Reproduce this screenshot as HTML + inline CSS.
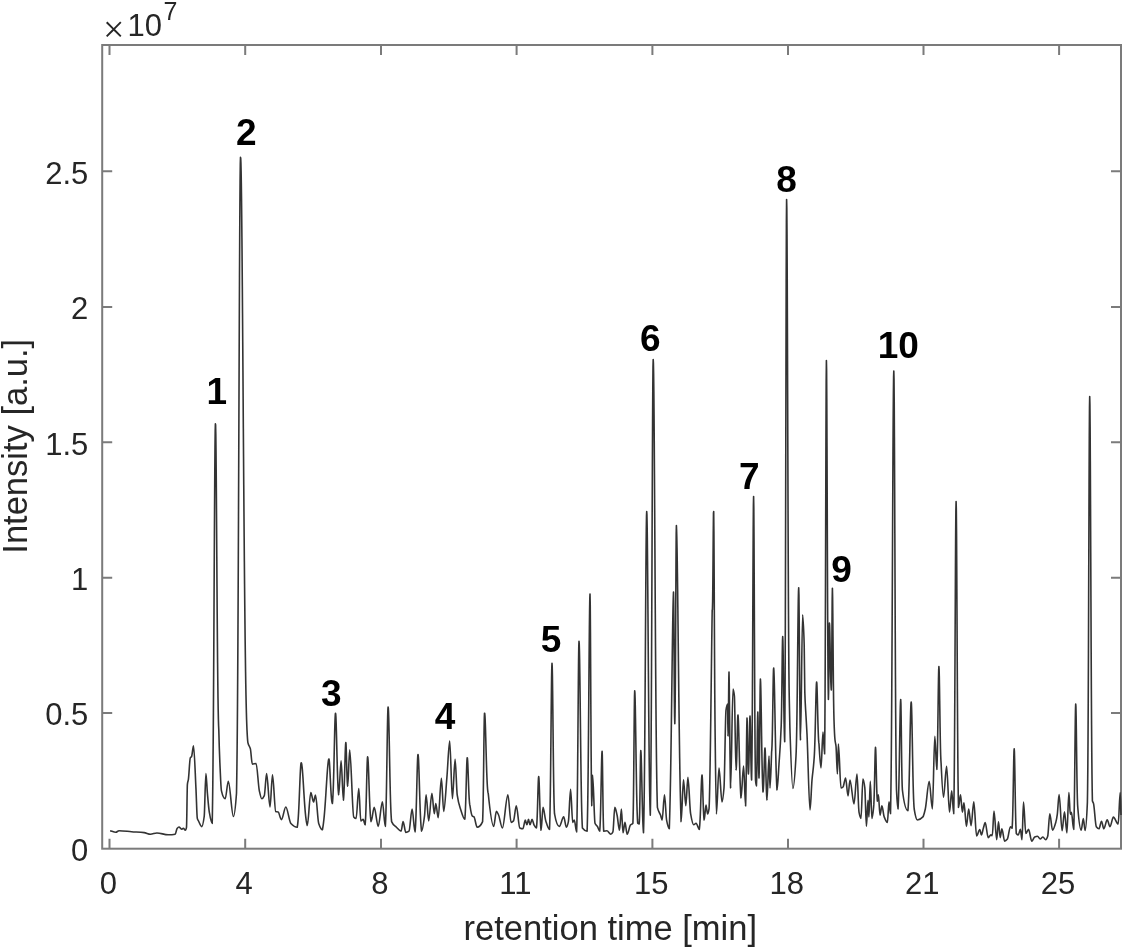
<!DOCTYPE html>
<html><head><meta charset="utf-8"><title>Chromatogram</title>
<style>html,body{margin:0;padding:0;background:#fff;}svg{display:block;}</style></head>
<body><svg width="1125" height="950" viewBox="0 0 1125 950">
<rect width="1125" height="950" fill="#fff"/>
<rect x="102.2" y="45.0" width="1018.8" height="803.7" fill="none" stroke="#7b7b7b" stroke-width="2"/>
<path d="M109.5 848.7V838.7M109.5 45.0V55.0M245.2 848.7V838.7M245.2 45.0V55.0M381.0 848.7V838.7M381.0 45.0V55.0M516.6 848.7V838.7M516.6 45.0V55.0M652.4 848.7V838.7M652.4 45.0V55.0M788.0 848.7V838.7M788.0 45.0V55.0M923.5 848.7V838.7M923.5 45.0V55.0M1059.1 848.7V838.7M1059.1 45.0V55.0M102.2 713.0H112.2M1121.0 713.0H1111.0M102.2 577.7H112.2M1121.0 577.7H1111.0M102.2 442.3H112.2M1121.0 442.3H1111.0M102.2 307.0H112.2M1121.0 307.0H1111.0M102.2 171.2H112.2M1121.0 171.2H1111.0" stroke="#7b7b7b" stroke-width="2" fill="none"/>
<path d="M110.10 830.70C112.00 831.23 113.90 832.30 115.80 832.30C116.87 832.30 117.93 830.70 119.00 830.70C123.20 830.70 127.40 831.38 131.60 831.70C135.80 832.02 140.00 832.10 144.20 832.60C146.30 832.85 148.40 834.20 150.50 834.20C152.63 834.20 154.77 833.00 156.90 833.00C160.67 833.00 164.43 834.80 168.20 834.80C170.53 834.80 172.87 834.67 175.20 834.20C175.83 834.07 176.47 829.29 177.10 828.50C177.73 827.71 178.37 827.00 179.00 827.00C179.83 827.00 180.67 829.20 181.50 829.20C182.13 829.20 182.77 828.30 183.40 828.30C184.03 828.30 184.67 830.20 185.30 830.20C185.70 830.20 186.10 829.22 186.50 827.30C186.80 825.86 187.10 787.05 187.40 784.30C187.73 781.24 188.07 781.52 188.40 779.30C189.03 775.08 189.67 758.91 190.30 757.80C190.73 757.04 191.17 757.21 191.60 756.50C192.23 755.47 192.87 745.80 193.50 745.80C194.33 745.80 195.17 772.87 196.00 789.40C196.43 797.99 196.87 816.71 197.30 818.40C197.70 819.96 198.10 820.21 198.50 821.00C199.57 823.10 200.63 826.60 201.70 826.60C202.53 826.60 203.37 822.58 204.20 816.50C204.77 812.36 205.33 773.60 205.90 773.60C206.40 773.60 206.90 787.52 207.40 793.20C208.03 800.39 208.67 808.42 209.30 812.10C210.27 817.72 211.23 823.50 212.20 823.50L212.40 813.18L212.60 800.24L212.80 784.19L213.00 764.54L213.20 741.00L213.40 713.43L213.60 682.06L213.80 647.42L214.00 610.49L214.20 572.61L214.40 535.45L214.60 500.90L214.80 470.86L215.00 447.13L215.20 431.13L215.40 423.80L215.60 424.95L215.80 433.82L216.00 449.67L216.20 471.35L216.40 497.43L216.60 526.32L216.80 556.42L217.00 586.25L217.20 614.57L217.40 640.41L217.60 663.11L217.80 682.34L218.00 698.01L218.20 710.27L218.40 719.42L218.60 725.85L218.80 730.00C219.23 747.74 219.67 758.44 220.10 767.90C220.53 777.36 220.97 788.69 221.40 790.60C222.67 796.18 223.93 798.80 225.20 798.80C226.23 798.80 227.27 781.20 228.30 781.20C230.00 781.20 231.70 816.50 233.40 816.50C234.43 816.50 235.47 807.48 236.50 793.20L236.70 781.98L236.90 768.00L237.10 750.79L237.30 729.90L237.50 704.97L237.70 675.72L237.90 642.02L238.10 603.96L238.30 561.86L238.50 516.34L238.70 468.26L238.90 418.79L239.10 369.33L239.30 321.49L239.50 276.94L239.70 237.40L239.90 204.45L240.10 179.49L240.30 163.58L240.50 157.40L240.70 158.13L240.91 162.72L241.11 171.07L241.31 183.00L241.52 198.29L241.72 216.64L241.92 237.71L242.12 261.14L242.33 286.53L242.53 313.45L242.73 341.50L242.94 370.26L243.14 399.33L243.34 428.32L243.55 456.89L243.75 484.74L243.95 511.58L244.16 537.19L244.36 561.38L244.56 584.02L244.77 605.00L244.97 624.26L245.17 641.78L245.38 657.57L245.58 671.67L245.78 684.14L245.98 695.06L246.19 704.53L246.39 712.64L246.59 719.51L246.80 725.26L247.00 730.00C247.30 736.13 247.60 741.16 247.90 742.60C248.73 746.59 249.57 745.63 250.40 748.90C251.03 751.39 251.67 764.10 252.30 764.10C253.57 764.10 254.83 763.50 256.10 763.50C257.17 763.50 258.23 785.65 259.30 790.60C260.13 794.47 260.97 798.80 261.80 798.80C262.63 798.80 263.47 797.55 264.30 795.70C265.07 794.00 265.83 773.60 266.60 773.60C267.73 773.60 268.87 807.00 270.00 807.00C270.83 807.00 271.67 774.80 272.50 774.80C273.57 774.80 274.63 811.02 275.70 811.50C276.53 811.88 277.37 811.75 278.20 812.10C279.27 812.55 280.33 819.70 281.40 819.70C282.87 819.70 284.33 807.00 285.80 807.00C287.50 807.00 289.20 821.73 290.90 823.50C293.00 825.69 295.10 827.30 297.20 827.30L297.40 826.22L297.60 824.85L297.80 823.14L298.00 821.06L298.20 818.54L298.40 815.58L298.60 812.16L298.80 808.28L299.00 803.98L299.20 799.33L299.40 794.40L299.60 789.34L299.80 784.27L300.00 779.37L300.20 774.82L300.40 770.79L300.60 767.44L300.80 764.93L301.00 763.36L301.20 762.80L301.40 762.99L301.61 763.64L301.81 764.74L302.01 766.25L302.22 768.15L302.42 770.41L302.62 772.96L302.83 775.78L303.03 778.80L303.23 781.98L303.44 785.25L303.64 788.58L303.84 791.90L304.05 795.18L304.25 798.38L304.45 801.45L304.66 804.38L304.86 807.14L305.06 809.71L305.27 812.09L305.47 814.25L305.67 816.22L305.88 817.97L306.08 819.54L306.28 820.91L306.49 822.11L306.69 823.14L306.89 824.02L307.10 824.77L307.30 825.40C308.47 825.40 309.63 792.50 310.80 792.50C311.73 792.50 312.67 802.00 313.60 802.00C314.23 802.00 314.87 795.00 315.50 795.00C316.57 795.00 317.63 820.40 318.70 823.50C319.93 827.08 321.17 829.80 322.40 829.80L322.60 828.75L322.80 827.61L323.00 826.37L323.20 825.02L323.40 823.55L323.60 821.95L323.80 820.22L324.00 818.34L324.20 816.31L324.40 814.13L324.60 811.80L324.80 809.31L325.00 806.68L325.20 803.92L325.40 801.02L325.60 798.02L325.80 794.93L326.00 791.78L326.20 788.58L326.40 785.39L326.60 782.21L326.80 779.11L327.00 776.10L327.20 773.22L327.40 770.52L327.60 768.03L327.80 765.78L328.00 763.79L328.20 762.11L328.40 760.74L328.60 759.70L328.80 759.00L329.01 759.05L329.22 760.28L329.44 762.56L329.65 765.74L329.86 769.59L330.07 773.86L330.28 778.32L330.49 782.74L330.71 786.92L330.92 790.73L331.13 794.07L331.34 796.87L331.55 799.13L331.76 800.87L331.98 802.14L332.19 802.99L332.40 803.50L332.61 801.25L332.81 798.28L333.02 794.42L333.23 789.55L333.43 783.59L333.64 776.53L333.85 768.47L334.05 759.61L334.26 750.31L334.47 741.02L334.67 732.27L334.88 724.63L335.09 718.63L335.29 714.73L335.50 713.20L335.71 714.15L335.93 717.47L336.14 722.89L336.35 729.95L336.57 738.12L336.78 746.83L336.99 755.55L337.21 763.83L337.42 771.31L337.63 777.79L337.85 783.17L338.06 787.46L338.27 790.74L338.49 793.13L338.70 794.80C339.50 794.80 340.30 760.80 341.10 760.80C341.87 760.80 342.63 800.30 343.40 800.30L343.60 798.16L343.80 795.32L344.00 791.62L344.20 786.94L344.40 781.28L344.60 774.75L344.80 767.65L345.00 760.44L345.20 753.74L345.40 748.16L345.60 744.28L345.80 742.50L346.01 743.78L346.22 748.57L346.43 755.71L346.64 763.74L346.86 771.30L347.07 777.48L347.28 781.91L347.49 784.67L347.70 786.10C348.37 786.10 349.03 749.70 349.70 749.70C351.03 749.70 352.37 815.31 353.70 816.90C354.50 817.85 355.30 818.50 356.10 818.50C357.00 818.50 357.90 788.50 358.80 788.50C359.47 788.50 360.13 820.90 360.80 820.90C361.60 820.90 362.40 819.30 363.20 819.30C363.83 819.30 364.47 824.80 365.10 824.80L365.31 822.71L365.52 819.69L365.73 815.52L365.93 810.05L366.14 803.26L366.35 795.32L366.56 786.61L366.77 777.77L366.98 769.59L367.18 762.91L367.39 758.51L367.60 756.90L367.81 757.54L368.01 759.63L368.22 763.03L368.42 767.52L368.63 772.84L368.84 778.69L369.04 784.77L369.25 790.80L369.45 796.54L369.66 801.81L369.86 806.50L370.07 810.53L370.28 813.90L370.48 816.63L370.69 818.77L370.89 820.40L371.10 821.60C372.13 821.60 373.17 807.40 374.20 807.40C375.53 807.40 376.87 826.40 378.20 826.40C379.60 826.40 381.00 801.90 382.40 801.90C383.37 801.90 384.33 826.40 385.30 826.40L385.50 823.35L385.70 819.14L385.90 813.53L386.10 806.29L386.30 797.34L386.50 786.70L386.70 774.61L386.90 761.53L387.10 748.15L387.30 735.30L387.50 723.94L387.70 714.98L387.90 709.19L388.10 707.10L388.31 708.26L388.51 711.97L388.72 717.99L388.92 725.94L389.13 735.34L389.34 745.68L389.54 756.41L389.75 767.05L389.95 777.20L390.16 786.52L390.36 794.81L390.57 801.94L390.78 807.90L390.98 812.74L391.19 816.54L391.39 819.45L391.60 821.60C393.20 825.39 394.80 825.65 396.40 827.20C397.97 828.72 399.53 831.10 401.10 831.10C401.77 831.10 402.43 821.60 403.10 821.60C404.00 821.60 404.90 832.40 405.80 832.40C406.87 832.40 407.93 831.92 409.00 831.10C410.03 830.30 411.07 809.00 412.10 809.00C413.07 809.00 414.03 831.90 415.00 831.90L415.20 830.12L415.40 827.69L415.60 824.46L415.80 820.33L416.00 815.23L416.20 809.14L416.40 802.14L416.60 794.45L416.80 786.35L417.00 778.26L417.20 770.65L417.40 764.04L417.60 758.90L417.80 755.64L418.00 754.50L418.20 755.25L418.40 757.50L418.60 761.13L418.80 765.93L419.00 771.64L419.20 777.99L419.40 784.68L419.60 791.42L419.80 797.97L420.00 804.12L420.20 809.73L420.40 814.69L420.60 818.97L420.80 822.57L421.00 825.51L421.20 827.87L421.40 829.70L421.60 831.10C422.57 831.10 423.53 823.62 424.50 816.10C425.03 811.95 425.57 794.80 426.10 794.80C426.97 794.80 427.83 820.90 428.70 820.90C429.77 820.90 430.83 793.20 431.90 793.20C432.70 793.20 433.50 813.70 434.30 813.70C434.80 813.70 435.30 803.50 435.80 803.50C436.60 803.50 437.40 817.70 438.20 817.70C439.27 817.70 440.33 778.20 441.40 778.20C442.17 778.20 442.93 811.40 443.70 811.40C444.77 811.40 445.83 789.90 446.90 777.40C447.83 766.46 448.77 741.00 449.70 741.00C450.60 741.00 451.50 798.70 452.40 798.70C453.30 798.70 454.20 759.20 455.10 759.20C455.80 759.20 456.50 789.77 457.20 794.80C458.30 802.70 459.40 805.57 460.50 809.00C461.93 813.47 463.37 819.30 464.80 819.30L465.02 816.90L465.24 813.56L465.45 809.06L465.67 803.24L465.89 796.16L466.11 788.08L466.33 779.57L466.55 771.41L466.76 764.52L466.98 759.74L467.20 757.70L467.40 758.10L467.60 760.24L467.80 763.88L468.00 768.66L468.20 774.14L468.40 779.88L468.60 785.46L468.80 790.59L469.00 795.02L469.20 798.66L469.40 801.49L469.60 803.55L469.80 804.95L470.00 805.80C470.80 811.21 471.60 815.42 472.40 816.10C472.93 816.55 473.47 816.47 474.00 816.90C475.03 817.73 476.07 827.20 477.10 827.20C478.93 827.20 480.77 825.95 482.60 821.60L482.81 816.33L483.02 808.42L483.23 797.21L483.44 782.55L483.66 765.17L483.87 746.85L484.08 730.28L484.29 718.37L484.50 713.40L484.71 713.35L484.91 715.22L485.12 718.84L485.32 723.97L485.53 730.28L485.73 737.39L485.94 744.93L486.14 752.54L486.35 759.91L486.56 766.77L486.76 772.94L486.97 778.28L487.17 782.74L487.38 786.33L487.58 789.09L487.79 791.09L487.99 792.42L488.20 793.20C490.03 811.15 491.87 826.40 493.70 826.40C494.60 826.40 495.50 811.40 496.40 811.40C497.07 811.40 497.73 813.14 498.40 814.50C499.73 817.22 501.07 828.00 502.40 828.00C504.23 828.00 506.07 794.80 507.90 794.80C508.97 794.80 510.03 822.40 511.10 822.40C511.90 822.40 512.70 821.78 513.50 820.90C514.43 819.88 515.37 805.80 516.30 805.80C517.47 805.80 518.63 827.43 519.80 828.00C520.83 828.50 521.87 828.80 522.90 828.80C523.70 828.80 524.50 820.10 525.30 820.10C525.83 820.10 526.37 824.80 526.90 824.80C527.43 824.80 527.97 819.30 528.50 819.30C529.00 819.30 529.50 824.80 530.00 824.80C530.70 824.80 531.40 819.30 532.10 819.30C532.73 819.30 533.37 823.63 534.00 824.80C534.80 826.28 535.60 828.00 536.40 828.00L536.61 826.36L536.82 823.84L537.03 820.20L537.24 815.32L537.45 809.24L537.65 802.22L537.86 794.79L538.07 787.69L538.28 781.79L538.49 777.90L538.70 776.60L538.92 778.11L539.14 782.21L539.35 788.31L539.57 795.62L539.79 803.27L540.01 810.50L540.23 816.79L540.45 821.87L540.66 825.72L540.88 828.46L541.10 830.30C541.73 830.30 542.37 807.40 543.00 807.40C543.93 807.40 544.87 817.92 545.80 820.90C547.03 824.83 548.27 829.50 549.50 829.50L549.71 824.13L549.92 816.56L550.12 806.25L550.33 792.86L550.54 776.31L550.75 757.02L550.96 735.92L551.17 714.51L551.38 694.65L551.58 678.38L551.79 667.51L552.00 663.30L552.21 666.20L552.42 675.75L552.62 690.70L552.83 709.24L553.04 729.34L553.25 749.12L553.46 767.10L553.67 782.32L553.88 794.40L554.08 803.39L554.29 809.65L554.50 813.70C556.10 822.67 557.70 826.40 559.30 826.40C560.77 826.40 562.23 816.90 563.70 816.90C564.60 816.90 565.50 827.20 566.40 827.20C567.07 827.20 567.73 824.70 568.40 821.60C569.13 818.19 569.87 789.30 570.60 789.30C571.30 789.30 572.00 822.40 572.70 822.40C573.23 822.40 573.77 820.10 574.30 820.10C575.07 820.10 575.83 831.90 576.60 831.90L576.82 825.50L577.04 815.88L577.25 802.28L577.47 784.21L577.69 761.80L577.91 736.01L578.13 708.73L578.35 682.66L578.56 660.90L578.78 646.39L579.00 641.20L579.21 643.46L579.42 650.34L579.64 661.35L579.85 675.72L580.06 692.50L580.27 710.67L580.49 729.23L580.70 747.28L580.91 764.11L581.12 779.20L581.34 792.25L581.55 803.16L581.76 811.99L581.98 818.90L582.19 824.15L582.40 828.00C583.97 830.15 585.53 831.10 587.10 831.10L587.31 824.51L587.51 815.73L587.72 804.28L587.93 789.78L588.14 772.02L588.34 751.08L588.55 727.41L588.76 701.86L588.96 675.73L589.17 650.62L589.38 628.31L589.59 610.54L589.79 598.78L590.00 594.00L590.23 603.83L590.45 632.68L590.67 672.75L590.90 714.76L591.12 751.26L591.35 778.46L591.57 796.02L591.80 805.80C592.07 805.80 592.33 775.00 592.60 775.00C593.40 775.00 594.20 821.20 595.00 823.20C595.80 825.20 596.60 825.11 597.40 826.40C598.17 827.64 598.93 831.10 599.70 831.10L599.92 828.46L600.14 824.46L600.35 818.78L600.57 811.22L600.79 801.83L601.01 791.00L601.23 779.55L601.45 768.61L601.66 759.49L601.88 753.43L602.10 751.30L602.30 755.28L602.50 766.11L602.70 780.98L602.90 796.55L603.10 810.14L603.30 820.38L603.50 827.14L603.70 831.10C604.77 831.10 605.83 830.80 606.90 830.80C608.20 830.80 609.50 834.30 610.80 834.30C611.50 834.30 612.20 833.39 612.90 831.90C613.53 830.55 614.17 807.40 614.80 807.40C615.57 807.40 616.33 811.91 617.10 815.30C617.90 818.84 618.70 830.30 619.50 830.30C620.13 830.30 620.77 809.00 621.40 809.00C621.93 809.00 622.47 832.70 623.00 832.70C623.67 832.70 624.33 822.40 625.00 822.40C625.70 822.40 626.40 834.30 627.10 834.30C628.27 834.30 629.43 826.04 630.60 824.80C631.37 823.98 632.13 824.30 632.90 823.20L633.10 817.56L633.30 808.37L633.50 794.75L633.70 776.50L633.90 754.58L634.10 731.42L634.30 710.60L634.50 696.04L634.70 690.80L634.90 692.71L635.10 698.28L635.30 707.07L635.50 718.39L635.70 731.42L635.90 745.29L636.10 759.16L636.30 772.35L636.50 784.33L636.70 794.75L636.90 803.49L637.10 810.54L637.30 816.04L637.50 820.18L637.70 823.20C638.20 823.68 638.70 824.00 639.20 824.00L639.43 819.91L639.66 812.17L639.89 800.02L640.11 784.22L640.34 767.72L640.57 755.09L640.80 750.60L641.01 752.49L641.22 757.16L641.42 764.15L641.63 772.81L641.84 782.37L642.05 792.08L642.25 801.31L642.46 809.57L642.67 816.62L642.88 822.35L643.08 826.83L643.29 830.21L643.50 832.70L643.70 825.57L643.90 816.14L644.10 803.95L644.30 788.60L644.50 769.80L644.70 747.45L644.90 721.73L645.10 693.14L645.30 662.52L645.50 631.06L645.70 600.24L645.90 571.72L646.10 547.19L646.30 528.22L646.50 516.08L646.70 511.60L646.91 514.58L647.12 524.37L647.34 540.33L647.55 561.43L647.76 586.42L647.97 613.88L648.18 642.42L648.39 670.73L648.61 697.70L648.82 722.47L649.03 744.48L649.24 763.41L649.45 779.21L649.66 792.00L649.88 802.04L650.09 809.68L650.30 815.30L650.51 803.88L650.71 787.98L650.92 766.64L651.13 739.07L651.34 704.83L651.54 664.09L651.75 617.76L651.96 567.61L652.16 516.27L652.37 467.01L652.58 423.47L652.79 389.21L652.99 367.22L653.20 359.50L653.41 362.95L653.62 373.60L653.83 390.94L654.04 414.19L654.25 442.32L654.46 474.15L654.67 508.42L654.88 543.89L655.09 579.36L655.30 613.81L655.51 646.37L655.72 676.39L655.93 703.42L656.14 727.23L656.35 747.75L656.56 765.07L656.77 779.39L656.98 791.00L657.19 800.23L657.40 807.40C658.47 812.34 659.53 812.28 660.60 815.30C661.10 816.72 661.60 820.10 662.10 820.10C662.90 820.10 663.70 794.80 664.50 794.80C665.20 794.80 665.90 816.45 666.60 820.10C667.50 824.79 668.40 828.80 669.30 828.80L669.50 822.55L669.70 815.67L669.90 808.05L670.10 799.58L670.30 790.20L670.50 779.82L670.70 768.41L670.90 755.98L671.10 742.58L671.30 728.31L671.50 713.34L671.70 697.90L671.90 682.27L672.10 666.78L672.30 651.80L672.50 637.69L672.70 624.84L672.90 613.58L673.10 604.22L673.30 596.98L673.50 592.00L673.72 601.47L673.93 631.75L674.15 668.35L674.37 698.35L674.58 716.34L674.80 723.70L675.00 715.74L675.20 699.95L675.40 674.47L675.60 639.61L675.80 599.21L676.00 560.76L676.20 533.61L676.40 525.60L676.60 530.15L676.81 537.40L677.01 547.20L677.22 559.33L677.42 573.50L677.63 589.33L677.83 606.44L678.03 624.42L678.24 642.87L678.44 661.39L678.65 679.63L678.85 697.30L679.06 714.16L679.26 730.00L679.47 744.71L679.67 758.22L679.87 770.50L680.08 781.57L680.28 791.50L680.49 800.37L680.69 808.26L680.90 815.30L681.10 821.60C681.90 821.60 682.70 779.80 683.50 779.80C684.27 779.80 685.03 805.80 685.80 805.80C686.50 805.80 687.20 777.40 687.90 777.40C688.80 777.40 689.70 808.54 690.60 813.70C691.63 819.62 692.67 824.80 693.70 824.80C694.50 824.80 695.30 823.20 696.10 823.20C697.17 823.20 698.23 829.50 699.30 829.50L699.51 827.77L699.72 825.46L699.92 822.45L700.13 818.63L700.34 813.97L700.55 808.52L700.75 802.46L700.96 796.09L701.17 789.81L701.38 784.11L701.58 779.48L701.79 776.35L702.00 775.00L702.20 775.93L702.40 779.28L702.60 784.52L702.80 790.89L703.00 797.57L703.20 803.87L703.40 809.28L703.60 813.56L703.80 816.68L704.00 818.76L704.20 820.00C704.80 820.00 705.40 805.00 706.00 805.00C706.53 805.00 707.07 814.00 707.60 814.00C708.07 814.00 708.53 811.82 709.00 809.00C710.07 802.55 711.13 678.32 712.20 610.00L712.41 609.59L712.63 601.38L712.84 583.76L713.06 558.38L713.27 531.51L713.49 512.87L713.70 511.60L713.91 531.45L714.13 568.65L714.34 614.10L714.56 658.05L714.77 694.24L714.99 721.02L715.20 740.00C715.60 774.57 716.00 814.00 716.40 814.00C717.27 814.00 718.13 768.00 719.00 768.00C720.00 768.00 721.00 802.00 722.00 802.00C722.67 802.00 723.33 795.91 724.00 788.00C724.67 780.09 725.33 714.43 726.00 710.00C726.53 706.46 727.07 704.00 727.60 704.00C727.73 704.00 727.87 736.00 728.00 736.00L728.20 731.97L728.40 719.34L728.60 698.57L728.80 678.32L729.00 672.00L729.20 680.19L729.40 695.59L729.60 715.24L729.80 735.63L730.00 753.94L730.20 768.71L730.40 779.83L730.60 788.00C731.40 788.00 732.20 689.00 733.00 689.00C733.47 689.00 733.93 691.86 734.40 696.00C734.93 700.73 735.47 770.00 736.00 770.00L736.20 768.65L736.40 765.91L736.60 761.43L736.80 755.04L737.00 746.94L737.20 737.76L737.40 728.62L737.60 720.90L737.80 716.01L738.00 715.00L738.20 717.08L738.40 720.98L738.60 726.50L738.80 733.28L739.00 740.91L739.20 748.96L739.40 757.02L739.60 764.74L739.80 771.84L740.00 778.18L740.20 783.66L740.40 788.31L740.60 792.18L740.80 795.37L741.00 798.00C741.87 798.00 742.73 766.00 743.60 766.00C744.27 766.00 744.93 806.00 745.60 806.00L745.83 798.04L746.07 785.20L746.30 766.83L746.53 745.43L746.77 726.93L747.00 718.00L747.23 721.59L747.47 734.76L747.70 750.83L747.93 763.86L748.17 771.38L748.40 774.00L748.60 771.35L748.80 766.55L749.00 759.10L749.20 749.09L749.40 737.56L749.60 726.57L749.80 718.67L750.00 716.00L750.20 719.42L750.40 728.07L750.60 739.81L750.80 752.09L751.00 762.85L751.20 771.05L751.40 776.60L751.60 780.00L751.80 769.44L752.00 752.90L752.20 728.90L752.40 696.76L752.60 657.27L752.80 613.17L753.00 569.20L753.20 531.34L753.40 505.62L753.60 496.50L753.81 507.72L754.02 538.90L754.23 583.49L754.44 633.08L754.66 680.00L754.87 719.09L755.08 748.25L755.29 767.93L755.50 780.00C755.80 783.45 756.10 786.00 756.40 786.00L756.63 780.16L756.87 769.59L757.10 753.68L757.33 734.82L757.57 718.78L757.80 712.00L758.00 717.45L758.20 732.15L758.40 749.68L758.60 764.26L758.80 773.50L759.00 778.00L759.23 771.18L759.47 757.31L759.70 735.47L759.93 709.25L760.17 687.22L760.40 679.00L760.60 681.69L760.80 688.15L761.00 697.76L761.20 709.63L761.40 722.73L761.60 736.02L761.80 748.66L762.00 760.00L762.20 769.67L762.40 777.57L762.60 783.78L762.80 788.49L763.00 792.00L763.20 790.61L763.40 788.21L763.60 784.55L763.80 779.51L764.00 773.22L764.20 766.15L764.40 759.11L764.60 753.10L764.80 749.14L765.00 748.00L765.20 749.94L765.40 754.70L765.60 761.51L765.80 769.35L766.00 777.22L766.20 784.31L766.40 790.15L766.60 794.61L766.80 797.81L767.00 800.00C767.67 800.00 768.33 756.00 769.00 756.00C769.33 756.00 769.67 788.00 770.00 788.00C770.53 788.00 771.07 767.17 771.60 752.00L771.81 749.80L772.02 745.51L772.23 738.63L772.44 728.91L772.65 716.63L772.86 702.74L773.07 688.90L773.28 677.18L773.49 669.70L773.70 668.00L773.91 670.70L774.11 675.83L774.32 683.10L774.53 692.14L774.73 702.43L774.94 713.45L775.14 724.67L775.35 735.63L775.56 745.94L775.76 755.35L775.97 763.69L776.17 770.92L776.38 777.06L776.59 782.19L776.79 786.46L777.00 790.00C777.67 790.00 778.33 773.82 779.00 764.00C779.67 754.18 780.33 747.56 781.00 730.00L781.21 725.77L781.42 718.07L781.64 706.08L781.85 689.93L782.06 671.32L782.28 653.58L782.49 640.85L782.70 636.60L782.90 640.42L783.10 650.02L783.30 663.85L783.50 679.82L783.70 695.83L783.90 710.23L784.10 722.07L784.30 731.08L784.50 737.48L784.70 741.80L784.91 717.52L785.12 679.18L785.33 623.26L785.54 548.97L785.76 460.17L785.97 366.42L786.18 281.95L786.39 222.30L786.60 199.60L786.81 207.77L787.02 234.97L787.22 278.11L787.43 332.67L787.64 393.40L787.85 455.16L788.05 513.57L788.26 565.42L788.47 608.89L788.68 643.38L788.88 669.30L789.09 687.71L789.30 700.00C789.50 713.23 789.70 721.82 789.90 728.00C790.90 758.88 791.90 788.50 792.90 788.50C793.93 788.50 794.97 774.85 796.00 756.00L796.21 750.98L796.42 744.11L796.62 734.97L796.83 723.24L797.04 708.80L797.25 691.82L797.45 672.87L797.66 652.90L797.87 633.24L798.08 615.45L798.28 601.10L798.49 591.58L798.70 587.80L798.93 594.91L799.15 615.63L799.38 644.39L799.60 674.54L799.83 700.75L800.05 720.29L800.27 732.93L800.50 740.00C801.20 740.00 801.90 614.70 802.60 614.70C803.13 614.70 803.67 627.07 804.20 645.00C804.40 651.72 804.60 685.18 804.80 692.00C805.20 705.65 805.60 708.43 806.00 716.00C806.33 722.31 806.67 727.18 807.00 734.00C808.00 754.47 809.00 810.00 810.00 810.00C810.67 810.00 811.33 788.00 812.00 780.00C812.67 772.00 813.33 769.79 814.00 760.00L814.20 757.48L814.40 754.14L814.60 749.81L814.80 744.34L815.00 737.68L815.20 729.91L815.40 721.27L815.60 712.18L815.80 703.23L816.00 695.09L816.20 688.48L816.40 683.98L816.60 682.00L816.82 683.16L817.04 687.76L817.25 695.02L817.47 703.88L817.69 713.18L817.91 721.93L818.13 729.43L818.35 735.34L818.56 739.60L818.78 742.39L819.00 744.00C819.67 754.81 820.33 768.00 821.00 768.00C821.67 768.00 822.33 732.00 823.00 732.00C823.53 732.00 824.07 754.00 824.60 754.00L824.83 732.52L825.05 698.13L825.27 647.76L825.50 581.92L825.73 506.94L825.95 435.19L826.17 382.05L826.40 360.50L826.60 369.46L826.80 399.95L827.00 446.18L827.20 500.35L827.40 554.67L827.60 603.02L827.80 641.83L828.00 670.09L828.20 688.67L828.40 699.50L828.60 691.84L828.80 676.69L829.00 654.45L829.20 632.65L829.40 623.00L829.61 625.21L829.82 632.57L830.03 643.39L830.24 655.51L830.46 666.94L830.67 676.34L830.88 683.18L831.09 687.57L831.30 690.00L831.52 681.55L831.74 661.44L831.96 630.30L832.18 599.86L832.40 588.30L832.60 596.20L832.80 613.89L833.00 637.34L833.20 661.79L833.40 683.41L833.60 700.25L833.80 712.12L834.00 720.00C834.33 730.25 834.67 736.92 835.00 740.00C835.33 743.08 835.67 743.01 836.00 746.00C836.47 750.18 836.93 774.00 837.40 774.00C837.73 774.00 838.07 744.00 838.40 744.00C839.27 744.00 840.13 788.00 841.00 788.00C841.67 788.00 842.33 787.56 843.00 787.00C843.87 786.27 844.73 778.00 845.60 778.00C846.40 778.00 847.20 796.00 848.00 796.00C848.67 796.00 849.33 780.00 850.00 780.00C851.33 780.00 852.67 804.00 854.00 804.00C855.00 804.00 856.00 774.00 857.00 774.00C857.67 774.00 858.33 808.59 859.00 812.20C859.67 815.81 860.33 818.50 861.00 818.50C861.63 818.50 862.27 779.00 862.90 779.00C863.53 779.00 864.17 782.73 864.80 787.70C865.33 791.89 865.87 826.40 866.40 826.40C866.93 826.40 867.47 800.30 868.00 800.30C868.30 800.30 868.60 816.90 868.90 816.90C869.37 816.90 869.83 781.40 870.30 781.40C870.83 781.40 871.37 818.50 871.90 818.50C872.47 818.50 873.03 813.46 873.60 807.40L873.81 804.63L874.02 800.33L874.23 794.14L874.44 785.95L874.66 776.19L874.87 765.89L875.08 756.60L875.29 750.00L875.50 747.40L875.71 749.30L875.92 755.20L876.13 763.79L876.34 773.39L876.56 782.45L876.77 789.94L876.98 795.43L877.19 799.03L877.40 801.10C877.73 801.10 878.07 794.80 878.40 794.80C878.93 794.80 879.47 815.30 880.00 815.30C880.63 815.30 881.27 805.80 881.90 805.80C882.67 805.80 883.43 814.91 884.20 816.90C885.27 819.68 886.33 822.40 887.40 822.40C887.93 822.40 888.47 801.90 889.00 801.90C889.50 801.90 890.00 813.70 890.50 813.70L890.71 803.80L890.91 790.74L891.12 773.89L891.33 752.70L891.53 726.77L891.74 695.97L891.94 660.55L892.15 621.17L892.36 579.01L892.56 535.70L892.77 493.27L892.97 453.99L893.18 420.20L893.39 394.05L893.59 377.27L893.80 371.00L894.01 378.41L894.22 401.40L894.42 437.44L894.63 482.82L894.84 533.25L895.05 584.53L895.25 633.06L895.46 676.23L895.67 712.53L895.88 741.48L896.08 763.42L896.29 779.22L896.50 790.00C897.00 800.83 897.50 809.00 898.00 809.00L898.21 805.46L898.42 800.78L898.62 794.70L898.83 787.02L899.04 777.67L899.25 766.76L899.45 754.62L899.66 741.86L899.87 729.30L900.08 717.88L900.28 708.59L900.49 702.27L900.70 699.50L900.91 703.46L901.12 715.82L901.34 733.14L901.55 751.31L901.76 767.06L901.98 778.69L902.19 786.06L902.40 790.00C904.23 805.14 906.07 810.60 907.90 810.60L908.11 808.27L908.31 805.15L908.52 801.07L908.73 795.91L908.93 789.56L909.14 781.98L909.34 773.25L909.55 763.53L909.76 753.11L909.96 742.40L910.17 731.91L910.38 722.21L910.58 713.88L910.79 707.48L910.99 703.42L911.20 702.00L911.40 703.50L911.60 707.99L911.80 715.09L912.00 724.26L912.20 734.81L912.40 746.04L912.60 757.29L912.80 767.97L913.00 777.66L913.20 786.10L913.40 793.16L913.60 798.85L913.80 803.27L914.00 806.59L914.20 809.00C915.27 815.75 916.33 820.00 917.40 820.00C919.23 820.00 921.07 818.84 922.90 816.90C923.70 816.05 924.50 812.49 925.30 809.00C926.60 803.32 927.90 781.40 929.20 781.40C930.27 781.40 931.33 809.00 932.40 809.00C933.20 809.00 934.00 736.30 934.80 736.30C935.47 736.30 936.13 769.50 936.80 769.50L937.01 765.47L937.22 759.34L937.43 750.58L937.64 738.96L937.85 724.75L938.06 708.91L938.27 693.12L938.48 679.48L938.69 670.12L938.90 666.60L939.10 668.97L939.30 676.26L939.50 687.38L939.70 700.77L939.90 714.80L940.10 728.05L940.30 739.51L940.50 748.67L940.70 755.48L940.90 760.19L941.10 763.20C941.90 780.47 942.70 797.20 943.50 797.20C944.53 797.20 945.57 766.40 946.60 766.40C947.57 766.40 948.53 812.20 949.50 812.20C950.23 812.20 950.97 790.80 951.70 790.80C952.37 790.80 953.03 813.70 953.70 813.70L953.92 803.19L954.14 787.43L954.35 765.16L954.57 735.59L954.79 698.94L955.01 656.75L955.23 612.13L955.45 569.48L955.66 533.89L955.88 510.13L956.10 501.60L956.32 509.55L956.54 532.74L956.75 567.76L956.97 609.84L957.19 653.88L957.41 695.50L957.63 731.58L957.85 760.58L958.06 782.28L958.28 797.46L958.50 807.40C959.17 807.40 959.83 794.80 960.50 794.80C961.13 794.80 961.77 812.20 962.40 812.20C962.93 812.20 963.47 802.70 964.00 802.70C964.80 802.70 965.60 826.40 966.40 826.40C967.17 826.40 967.93 809.00 968.70 809.00C969.50 809.00 970.30 825.60 971.10 825.60C972.00 825.60 972.90 801.90 973.80 801.90C974.73 801.90 975.67 835.90 976.60 835.90C977.67 835.90 978.73 829.50 979.80 829.50C980.33 829.50 980.87 835.00 981.40 835.00C982.07 835.00 982.73 830.26 983.40 828.10C984.00 826.16 984.60 822.60 985.20 822.60C986.20 822.60 987.20 837.60 988.20 837.60C989.10 837.60 990.00 834.90 990.90 834.90C991.37 834.90 991.83 835.60 992.30 835.60C992.87 835.60 993.43 811.00 994.00 811.00C994.90 811.00 995.80 839.70 996.70 839.70C997.30 839.70 997.90 821.90 998.50 821.90C999.07 821.90 999.63 837.60 1000.20 837.60C1000.77 837.60 1001.33 828.80 1001.90 828.80C1002.80 828.80 1003.70 841.10 1004.60 841.10C1005.53 841.10 1006.47 840.17 1007.40 839.00C1008.40 837.74 1009.40 826.70 1010.40 826.70C1010.97 826.70 1011.53 828.10 1012.10 828.10L1012.31 825.31L1012.52 820.79L1012.73 814.11L1012.94 805.07L1013.15 793.91L1013.36 781.41L1013.57 768.94L1013.78 758.25L1013.99 751.07L1014.20 748.70L1014.41 751.61L1014.62 759.33L1014.83 770.56L1015.04 783.57L1015.25 796.61L1015.46 808.31L1015.67 817.89L1015.88 825.11L1016.09 830.17L1016.30 833.50C1016.97 834.41 1017.63 834.90 1018.30 834.90C1019.00 834.90 1019.70 829.40 1020.40 829.40C1020.93 829.40 1021.47 839.70 1022.00 839.70C1022.50 839.70 1023.00 802.10 1023.50 802.10C1024.27 802.10 1025.03 833.50 1025.80 833.50C1026.73 833.50 1027.67 829.40 1028.60 829.40C1029.63 829.40 1030.67 841.10 1031.70 841.10C1032.70 841.10 1033.70 837.42 1034.70 837.00C1035.63 836.61 1036.57 836.30 1037.50 836.30C1038.40 836.30 1039.30 839.00 1040.20 839.00C1041.10 839.00 1042.00 837.00 1042.90 837.00C1043.83 837.00 1044.77 839.70 1045.70 839.70C1046.37 839.70 1047.03 838.25 1047.70 836.30C1048.40 834.26 1049.10 813.70 1049.80 813.70C1050.70 813.70 1051.60 830.10 1052.50 830.10C1053.63 830.10 1054.77 825.88 1055.90 821.90C1056.37 820.26 1056.83 817.71 1057.30 814.40C1057.90 810.14 1058.50 794.60 1059.10 794.60C1060.10 794.60 1061.10 830.80 1062.10 830.80C1062.90 830.80 1063.70 811.70 1064.50 811.70C1065.30 811.70 1066.10 832.90 1066.90 832.90C1067.57 832.90 1068.23 792.50 1068.90 792.50C1069.37 792.50 1069.83 814.40 1070.30 814.40C1070.67 814.40 1071.03 812.30 1071.40 812.30C1072.17 812.30 1072.93 829.40 1073.70 829.40L1073.90 824.06L1074.10 816.30L1074.30 805.52L1074.50 791.45L1074.70 774.40L1074.90 755.49L1075.10 736.62L1075.30 720.23L1075.50 708.76L1075.70 704.00L1075.91 706.58L1076.12 715.87L1076.33 730.08L1076.54 746.77L1076.75 763.50L1076.96 778.37L1077.17 790.26L1077.38 798.86L1077.59 804.44L1077.80 807.60C1078.93 821.67 1080.07 830.10 1081.20 830.10C1081.90 830.10 1082.60 818.50 1083.30 818.50C1083.90 818.50 1084.50 830.50 1085.10 830.50C1085.87 830.50 1086.63 819.79 1087.40 802.10L1087.61 788.64L1087.82 768.31L1088.03 739.44L1088.24 701.01L1088.45 653.29L1088.65 598.33L1088.86 540.17L1089.07 484.60L1089.28 438.28L1089.49 407.46L1089.70 396.60L1089.91 404.30L1090.12 426.67L1090.32 461.35L1090.53 504.82L1090.74 553.05L1090.95 602.09L1091.15 648.53L1091.36 689.92L1091.57 724.84L1091.78 752.84L1091.98 774.22L1092.19 789.82L1092.40 800.70C1092.77 802.26 1093.13 802.11 1093.50 803.40C1094.43 806.68 1095.37 825.38 1096.30 826.70C1097.20 827.97 1098.10 828.80 1099.00 828.80C1099.83 828.80 1100.67 821.20 1101.50 821.20C1102.27 821.20 1103.03 828.80 1103.80 828.80C1104.93 828.80 1106.07 819.90 1107.20 819.90C1108.13 819.90 1109.07 826.70 1110.00 826.70C1111.13 826.70 1112.27 817.10 1113.40 817.10C1115.00 817.10 1116.60 824.00 1118.20 824.00C1118.87 824.00 1119.53 792.50 1120.20 792.50C1120.47 792.50 1120.73 807.50 1121.00 815.00" fill="none" stroke="#333" stroke-width="1.6" stroke-linejoin="round"/>
<g font-family="Liberation Sans, sans-serif" font-size="31" fill="#262626"><text x="108.3" y="894.3" text-anchor="middle">0</text><text x="244.0" y="894.3" text-anchor="middle">4</text><text x="379.8" y="894.3" text-anchor="middle">8</text><text x="515.4" y="894.3" text-anchor="middle">11</text><text x="651.2" y="894.3" text-anchor="middle">15</text><text x="786.8" y="894.3" text-anchor="middle">18</text><text x="922.3" y="894.3" text-anchor="middle">21</text><text x="1057.9" y="894.3" text-anchor="middle">25</text><text x="88.3" y="861.0" text-anchor="end">0</text><text x="88.3" y="725.3" text-anchor="end">0.5</text><text x="88.3" y="590.0" text-anchor="end">1</text><text x="88.3" y="454.6" text-anchor="end">1.5</text><text x="88.3" y="319.3" text-anchor="end">2</text><text x="88.3" y="183.5" text-anchor="end">2.5</text><text x="610.3" y="940" text-anchor="middle" font-size="34.5">retention time [min]</text><text transform="translate(27,446.3) rotate(-90)" text-anchor="middle" font-size="34.5">Intensity [a.u.]</text><text x="103" y="42.3" font-size="38" font-family="Liberation Serif, serif">&#215;</text><text x="127.6" y="36.3">10</text><text x="163.4" y="20.3" font-size="25">7</text></g>
<g font-family="Liberation Sans, sans-serif" font-weight="bold" font-size="37" fill="#000"><text x="216.8" y="403.7" text-anchor="middle">1</text><text x="246.3" y="145.0" text-anchor="middle">2</text><text x="331.4" y="706.4" text-anchor="middle">3</text><text x="445.1" y="728.5" text-anchor="middle">4</text><text x="551.1" y="652.2" text-anchor="middle">5</text><text x="650.2" y="350.8" text-anchor="middle">6</text><text x="749.4" y="488.9" text-anchor="middle">7</text><text x="786.6" y="192.4" text-anchor="middle">8</text><text x="841.5" y="581.7" text-anchor="middle">9</text><text x="898.3" y="357.6" text-anchor="middle">10</text></g>
</svg></body></html>
